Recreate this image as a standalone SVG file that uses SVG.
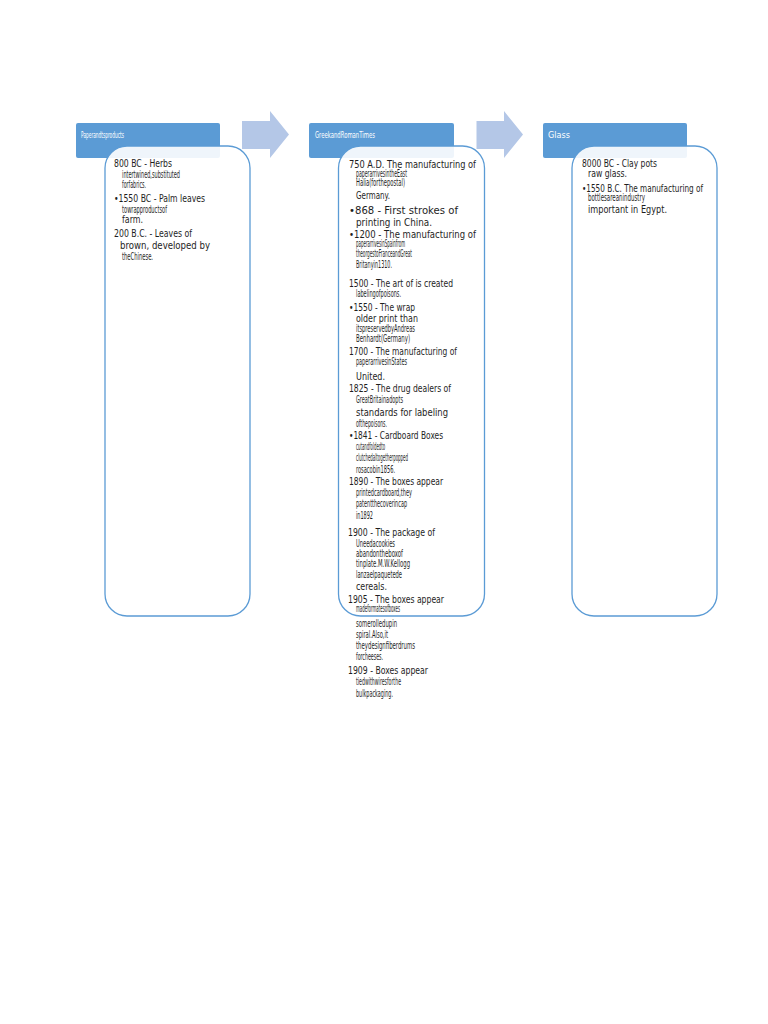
<svg xmlns="http://www.w3.org/2000/svg" width="768" height="1024" viewBox="0 0 768 1024">
<style>
.hdr{fill:#5B9BD5;}
.box{fill:#FFFFFF;fill-opacity:0.9;stroke:#5B9BD5;stroke-width:1.3;}
.arr{fill:#B4C7E7;}
text{font-family:"DejaVu Sans","Liberation Sans",sans-serif;fill:#1E1E1E;}
.n{font-size:10px;}
.c{font-size:10px;}
.h{font-size:9.5px;fill:#FFFFFF;}
</style>
<rect width="768" height="1024" fill="#FFFFFF"/>
<g id="connectors">
<polygon class="arr" points="242,121 270,121 270,111 289,134.5 270,158 270,149 242,149"/>
<polygon class="arr" points="476.5,121 504,121 504,111 523,134.5 504,158 504,149 476.5,149"/>
</g>
<g id="node-paper">
<rect class="hdr" x="76" y="123" width="144" height="35" rx="2"/>
<text class="h" x="81" y="138" textLength="43" lengthAdjust="spacingAndGlyphs">Paperandtsproducts</text>
<rect class="box" x="105" y="146" width="145" height="470" rx="22"/>
<text class="n" x="114" y="167" textLength="58" lengthAdjust="spacingAndGlyphs">800 BC - Herbs</text>
<text class="c" x="122" y="178" textLength="58" lengthAdjust="spacingAndGlyphs">intertwined,substituted</text>
<text class="c" x="122" y="188" textLength="24" lengthAdjust="spacingAndGlyphs">forfabrics.</text>
<text class="n" x="114" y="202" textLength="91" lengthAdjust="spacingAndGlyphs">•1550 BC - Palm leaves</text>
<text class="c" x="122" y="213" textLength="45" lengthAdjust="spacingAndGlyphs">towrapproductsof</text>
<text class="n" x="122" y="223" textLength="21" lengthAdjust="spacingAndGlyphs">farm.</text>
<text class="n" x="114" y="237" textLength="78" lengthAdjust="spacingAndGlyphs">200 B.C. - Leaves of</text>
<text class="n" x="120" y="249" textLength="90" lengthAdjust="spacingAndGlyphs">brown, developed by</text>
<text class="c" x="122" y="260" textLength="31" lengthAdjust="spacingAndGlyphs">theChinese.</text>
</g>
<g id="node-greek">
<rect class="hdr" x="309" y="123" width="145" height="35" rx="2"/>
<text class="h" x="315" y="138" textLength="60" lengthAdjust="spacingAndGlyphs">GreekandRomanTimes</text>
<rect class="box" x="338.5" y="146" width="146" height="470" rx="22"/>
<text class="n" x="349" y="168" textLength="127" lengthAdjust="spacingAndGlyphs">750 A.D. The manufacturing of</text>
<text class="c" x="356" y="177" textLength="51" lengthAdjust="spacingAndGlyphs">paperarrivesintheEast</text>
<text class="c" x="356" y="186" textLength="49" lengthAdjust="spacingAndGlyphs">Halia(forthepostal)</text>
<text class="n" x="356" y="199" textLength="34" lengthAdjust="spacingAndGlyphs">Germany.</text>
<text class="n" x="349" y="214" textLength="109" lengthAdjust="spacingAndGlyphs">•868 - First strokes of</text>
<text class="n" x="356" y="226" textLength="76" lengthAdjust="spacingAndGlyphs">printing in China.</text>
<text class="n" x="349" y="238" textLength="127" lengthAdjust="spacingAndGlyphs">•1200 - The manufacturing of</text>
<text class="c" x="356" y="247" textLength="49" lengthAdjust="spacingAndGlyphs">paperarrivesinSpainfrom</text>
<text class="c" x="356" y="257" textLength="56" lengthAdjust="spacingAndGlyphs">theorgestoFranceandGreat</text>
<text class="c" x="356" y="268" textLength="36" lengthAdjust="spacingAndGlyphs">Britanyin1310.</text>
<text class="n" x="349" y="287" textLength="104" lengthAdjust="spacingAndGlyphs">1500 - The art of is created</text>
<text class="c" x="356" y="297" textLength="45" lengthAdjust="spacingAndGlyphs">labelingofpoisons.</text>
<text class="n" x="349" y="311" textLength="66" lengthAdjust="spacingAndGlyphs">•1550 - The wrap</text>
<text class="n" x="356" y="322" textLength="62" lengthAdjust="spacingAndGlyphs">older print than</text>
<text class="c" x="356" y="332" textLength="59" lengthAdjust="spacingAndGlyphs">itspreservedbyAndreas</text>
<text class="c" x="356" y="342" textLength="54" lengthAdjust="spacingAndGlyphs">Benhardt(Germany)</text>
<text class="n" x="349" y="355" textLength="108" lengthAdjust="spacingAndGlyphs">1700 - The manufacturing of</text>
<text class="c" x="356" y="365" textLength="51" lengthAdjust="spacingAndGlyphs">paperarrivesinStates</text>
<text class="n" x="356" y="380" textLength="29" lengthAdjust="spacingAndGlyphs">United.</text>
<text class="n" x="349" y="392" textLength="102" lengthAdjust="spacingAndGlyphs">1825 - The drug dealers of</text>
<text class="c" x="356" y="403" textLength="47" lengthAdjust="spacingAndGlyphs">GreatBritainadopts</text>
<text class="n" x="356" y="416" textLength="92" lengthAdjust="spacingAndGlyphs">standards for labeling</text>
<text class="c" x="356" y="427" textLength="31" lengthAdjust="spacingAndGlyphs">ofthepoisons.</text>
<text class="n" x="349" y="439" textLength="94" lengthAdjust="spacingAndGlyphs">•1841 - Cardboard Boxes</text>
<text class="c" x="356" y="450" textLength="29" lengthAdjust="spacingAndGlyphs">cutandfoldedto</text>
<text class="c" x="356" y="461" textLength="52" lengthAdjust="spacingAndGlyphs">clutchedaltogetherpopped</text>
<text class="c" x="356" y="473" textLength="39" lengthAdjust="spacingAndGlyphs">rosacobin1856.</text>
<text class="n" x="349" y="485" textLength="94" lengthAdjust="spacingAndGlyphs">1890 - The boxes appear</text>
<text class="c" x="356" y="496" textLength="56" lengthAdjust="spacingAndGlyphs">printedcardboard,they</text>
<text class="c" x="356" y="507" textLength="51" lengthAdjust="spacingAndGlyphs">patentthecoverincap</text>
<text class="c" x="356" y="519" textLength="17" lengthAdjust="spacingAndGlyphs">in1892</text>
<text class="n" x="348" y="536" textLength="87" lengthAdjust="spacingAndGlyphs">1900 - The package of</text>
<text class="c" x="356" y="547" textLength="39" lengthAdjust="spacingAndGlyphs">Uneedacookies</text>
<text class="c" x="356" y="557" textLength="47" lengthAdjust="spacingAndGlyphs">abandontheboxof</text>
<text class="c" x="356" y="567" textLength="54" lengthAdjust="spacingAndGlyphs">tinplate.M.W.Kellogg</text>
<text class="c" x="356" y="578" textLength="46" lengthAdjust="spacingAndGlyphs">lanzaelpaquetede</text>
<text class="n" x="356" y="590" textLength="31" lengthAdjust="spacingAndGlyphs">cereals.</text>
<text class="n" x="348" y="603" textLength="96" lengthAdjust="spacingAndGlyphs">1905 - The boxes appear</text>
<text class="c" x="356" y="612" textLength="44" lengthAdjust="spacingAndGlyphs">madeformatesofboxes</text>
<text class="c" x="356" y="627" textLength="41" lengthAdjust="spacingAndGlyphs">somerolledupin</text>
<text class="c" x="356" y="638" textLength="32" lengthAdjust="spacingAndGlyphs">spiral.Also,it</text>
<text class="c" x="356" y="649" textLength="59" lengthAdjust="spacingAndGlyphs">theydesignfiberdrums</text>
<text class="c" x="356" y="660" textLength="27" lengthAdjust="spacingAndGlyphs">forcheeses.</text>
<text class="n" x="348" y="674" textLength="80" lengthAdjust="spacingAndGlyphs">1909 - Boxes appear</text>
<text class="c" x="356" y="685" textLength="45" lengthAdjust="spacingAndGlyphs">tiedwithwiresforthe</text>
<text class="c" x="356" y="697" textLength="37" lengthAdjust="spacingAndGlyphs">bulkpackaging.</text>
</g>
<g id="node-glass">
<rect class="hdr" x="543" y="123" width="144" height="35" rx="2"/>
<text class="h" x="548" y="138" textLength="22" lengthAdjust="spacingAndGlyphs">Glass</text>
<rect class="box" x="572" y="146" width="145" height="470" rx="22"/>
<text class="n" x="582" y="167" textLength="75" lengthAdjust="spacingAndGlyphs">8000 BC - Clay pots</text>
<text class="n" x="588" y="177" textLength="39" lengthAdjust="spacingAndGlyphs">raw glass.</text>
<text class="n" x="582" y="192" textLength="121" lengthAdjust="spacingAndGlyphs">•1550 B.C. The manufacturing of</text>
<text class="c" x="588" y="201" textLength="57" lengthAdjust="spacingAndGlyphs">bottlesareanindustry</text>
<text class="n" x="588" y="213" textLength="79" lengthAdjust="spacingAndGlyphs">important in Egypt.</text>
</g>
</svg>
